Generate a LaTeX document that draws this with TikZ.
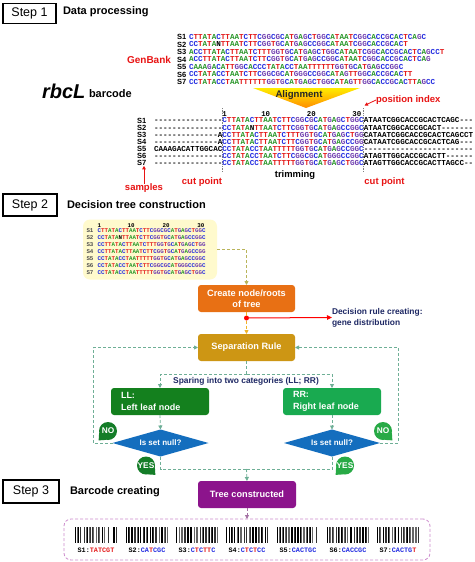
\documentclass[tikz,border=0pt]{standalone}
\usepackage{fontspec}
\setmainfont{Liberation Sans}
\newfontfamily\seqfont{Liberation Mono}
\usetikzlibrary{arrows.meta,shapes.geometric}

\definecolor{nA}{RGB}{40,150,40}
\definecolor{nC}{RGB}{35,45,225}
\definecolor{nG}{RGB}{110,60,175}
\definecolor{nT}{RGB}{228,30,30}
\definecolor{labred}{RGB}{232,20,20}
\definecolor{navyc}{RGB}{30,40,100}
\definecolor{orangebox}{RGB}{232,112,20}
\definecolor{goldbox}{RGB}{205,150,20}
\definecolor{llgreen}{RGB}{20,128,30}
\definecolor{rrgreen}{RGB}{25,170,80}
\definecolor{diablue}{RGB}{20,110,190}
\definecolor{purplebox}{RGB}{140,20,140}
\definecolor{tealc}{RGB}{110,175,150}
\definecolor{olivec}{RGB}{185,180,90}
\definecolor{lightyel}{RGB}{255,250,205}
\definecolor{pinkdash}{RGB}{205,140,205}
\definecolor{ambers}{RGB}{240,180,40}
\definecolor{darkgreenb}{RGB}{20,125,40}
\definecolor{brightgreenb}{RGB}{40,170,70}

\newcommand\nucl[1]{\ifx#1A\textcolor{nA}{A}\else\ifx#1C\textcolor{nC}{C}\else\ifx#1G\textcolor{nG}{G}\else\ifx#1T\textcolor{nT}{T}\else\hbox{#1}\fi\fi\fi\fi}
\def\colseq#1{\colseqi#1\relax}
\def\colseqi#1{\ifx#1\relax\else\nucl#1\expandafter\colseqi\fi}
\def\blkseq#1{\blkseqi#1\relax}
\def\blkseqi#1{\ifx#1\relax\else\hbox{#1}\expandafter\blkseqi\fi}

\newcommand\drawbarcode[2]{%
  \pgfmathsetseed{#2}%
  \foreach \i in {0,...,27}{%
    \pgfmathtruncatemacro\bon{random(0,5)}%
    \pgfmathsetmacro\bw{0.6+0.35*random(0,2)}%
    \pgfmathtruncatemacro\bk{60+20*random(0,2)}%
    \ifnum\bon>0 \fill[black!\bk] ({#1-21+\i*1.5},527) rectangle ++(\bw,16);\fi
  }}

\begin{document}
\begin{tikzpicture}[x=1pt,y=-1pt,
  every node/.style={inner sep=0pt,outer sep=0pt},
  stepbox/.style={draw,line width=1.3pt,minimum width=53pt,minimum height=20pt,font=\fontsize{12.5}{14}\selectfont},
  heading/.style={anchor=west,font=\bfseries\fontsize{11}{13}\selectfont},
  redlab/.style={text=labred,font=\bfseries\fontsize{9.5}{11}\selectfont},
  seqrow/.style={anchor=west,font=\seqfont\bfseries\fontsize{7.6}{8}\selectfont,text height=4.5pt,text depth=0pt},
  smallseq/.style={anchor=west,font=\seqfont\bfseries\fontsize{5.8}{6}\selectfont,text height=3.5pt,text depth=0pt},
  rowlab/.style={anchor=west,font=\bfseries\fontsize{7.5}{8}\selectfont,text height=5pt,text depth=0pt},
  idxlab/.style={font=\seqfont\bfseries\fontsize{7.4}{8}\selectfont},
  flowbox/.style={rounded corners=3pt,minimum width=97pt,minimum height=27pt,text=white,font=\bfseries\fontsize{9.2}{11.5}\selectfont,align=center},
  leafbox/.style={rounded corners=3pt,minimum width=98pt,minimum height=27pt,text=white,font=\bfseries\fontsize{9}{11.7}\selectfont,align=left},
  diam/.style={diamond,aspect=3.6,fill=diablue,minimum width=96pt,minimum height=27pt,text=white,font=\bfseries\fontsize{8}{9}\selectfont},
  bubble/.style={circle,minimum size=18pt,text=white,font=\bfseries\fontsize{8.3}{9}\selectfont},
  tip/.style={-{Triangle[length=4pt,width=4pt]}},
  tealline/.style={draw=tealc,line width=0.8pt,dash pattern=on 3pt off 2pt},
  bclab/.style={font=\seqfont\bfseries\fontsize{6.8}{7}\selectfont}
]
\useasboundingbox (0,0) rectangle (474,562);
\fill[white] (0,0) rectangle (474,562);

% ---------------- Step 1 ----------------
\node[stepbox] (st1) at (29.5,13.5) {Step 1};
\node[heading] (h1) at (63,12) {Data processing};

\node[redlab,font=\bfseries\fontsize{10}{11}\selectfont] (genbank) at (149,60) {GenBank};
\node[anchor=base west,font=\bfseries\itshape\fontsize{20}{22}\selectfont] (rbcl) at (42,98.5) {rbcL};
\node[anchor=base west,font=\bfseries\fontsize{11}{12}\selectfont] (barc) at (89,97.5) {barcode};

\node[rowlab] (g1) at (177,37) {S1};
\node[rowlab] (g2) at (177,44.5) {S2};
\node[rowlab] (g3) at (177,52) {S3};
\node[rowlab] (g4) at (177,59.5) {S4};
\node[rowlab] (g5) at (177,67) {S5};
\node[rowlab] (g6) at (177,74.5) {S6};
\node[rowlab] (g7) at (177,82) {S7};
\node[seqrow] (gs1) at (189,37) {\colseq{CTTATACTTAATCTTCGGCGCATGAGCTGGCATAATCGGCACCGCACTCAGC}};
\node[seqrow] (gs2) at (189,44.5) {\colseq{CCTATANTTAATCTTCGGTGCATGAGCCGGCATAATCGGCACCGCACT}};
\node[seqrow] (gs3) at (189,52) {\colseq{ACCTTATACTTAATCTTTGGTGCATGAGCTGGCATAATCGGCACCGCACTCAGCCT}};
\node[seqrow] (gs4) at (189,59.5) {\colseq{ACCTTATACTTAATCTTCGGTGCATGAGCCGGCATAATCGGCACCGCACTCAG}};
\node[seqrow] (gs5) at (189,67) {\colseq{CAAAGACATTGGCACCCTATACCTAATTTTTTGGTGCATGAGCCGGC}};
\node[seqrow] (gs6) at (189,74.5) {\colseq{CCTATACCTAATCTTCGGCGCATGGGCCGGCATAGTTGGCACCGCACTT}};
\node[seqrow] (gs7) at (189,82) {\colseq{CCTATACCTAATTTTTTGGTGCATGAGCTGGCATAGTTGGCACCGCACTTAGCC}};

% Alignment arrow
\shade[top color=yellow!85!orange,bottom color=orange!90!yellow] (253,88) -- (360,88) -- (306,108) -- cycle;
\node[font=\bfseries\fontsize{9.6}{10}\selectfont,text=black!85] (alig) at (299,95) {Alignment};

% position indices
\node[idxlab] (i1) at (224.7,114) {1};
\node[idxlab] (i10) at (265.7,114) {10};
\node[idxlab] (i20) at (311.3,114) {20};
\node[idxlab] (i30) at (356.9,114) {30};

% cut lines
\draw[gray,densely dotted,line width=0.7pt] (222.4,108) -- (222.4,172);
\draw[gray,densely dotted,line width=0.7pt] (363.8,108) -- (363.8,172);

\node[rowlab] (a1) at (137,120.7) {S1};
\node[rowlab] (a2) at (137,127.8) {S2};
\node[rowlab] (a3) at (137,134.9) {S3};
\node[rowlab] (a4) at (137,142.0) {S4};
\node[rowlab] (a5) at (137,149.1) {S5};
\node[rowlab] (a6) at (137,156.2) {S6};
\node[rowlab] (a7) at (137,163.3) {S7};
\node[seqrow] (as1) at (154,120.7) {\blkseq{---------------}\colseq{CTTATACTTAATCTTCGGCGCATGAGCTGGC}\blkseq{ATAATCGGCACCGCACTCAGC---}};
\node[seqrow] (as2) at (154,127.8) {\blkseq{---------------}\colseq{CCTATANTTAATCTTCGGTGCATGAGCCGGC}\blkseq{ATAATCGGCACCGCACT-------}};
\node[seqrow] (as3) at (154,134.9) {\blkseq{--------------A}\colseq{CCTTATACTTAATCTTTGGTGCATGAGCTGG}\blkseq{CATAATCGGCACCGCACTCAGCCT}};
\node[seqrow] (as4) at (154,142.0) {\blkseq{--------------A}\colseq{CCTTATACTTAATCTTCGGTGCATGAGCCGG}\blkseq{CATAATCGGCACCGCACTCAG---}};
\node[seqrow] (as5) at (154,149.1) {\blkseq{CAAAGACATTGGCAC}\colseq{CCTATACCTAATTTTTGGTGCATGAGCCGGC}\blkseq{------------------------}};
\node[seqrow] (as6) at (154,156.2) {\blkseq{---------------}\colseq{CCTATACCTAATCTTCGGCGCATGGGCCGGC}\blkseq{ATAGTTGGCACCGCACTT------}};
\node[seqrow] (as7) at (154,163.3) {\blkseq{---------------}\colseq{CCTATACCTAATTTTTGGTGCATGAGCTGGC}\blkseq{ATAGTTGGCACCGCACTTAGCC--}};

\node[font=\bfseries\fontsize{9.4}{10}\selectfont] (trim) at (295,175) {trimming};
\node[redlab] (cut1) at (202,182) {cut point};
\node[redlab] (cut2) at (384.5,182) {cut point};
\node[redlab] (samp) at (144,188) {samples};
\node[redlab,anchor=west] (pidx) at (376,100) {position index};
\coordinate (pidxend) at (364.5,105.5);
\draw[labred,line width=0.8pt,-{Triangle[length=3.5pt,width=3.5pt]}] (pidx.west) -- (pidxend);
\draw[labred,line width=0.8pt,-{Triangle[length=3.5pt,width=3.5pt]}] (samp.north) -- (samp.north |- a7.south);

% ---------------- Step 2 ----------------
\node[stepbox,minimum width=54pt,minimum height=22pt] (st2) at (30,205) {Step 2};
\node[heading] (h2) at (67,205) {Decision tree construction};

\node[fill=lightyel,rounded corners=7pt,minimum width=134pt,minimum height=60pt] (ybox) at (150,249.5) {};
\node[smallseq,anchor=center] (y1) at (99.4,226) {1};
\node[smallseq,anchor=center] (y10) at (131.2,226) {10};
\node[smallseq,anchor=center] (y20) at (166,226) {20};
\node[smallseq,anchor=center] (y30) at (200.8,226) {30};
\node[smallseq,text=black!70] (yl1) at (86.5,231) {S1};
\node[smallseq,text=black!70] (yl2) at (86.5,237.9) {S2};
\node[smallseq,text=black!70] (yl3) at (86.5,244.8) {S3};
\node[smallseq,text=black!70] (yl4) at (86.5,251.7) {S4};
\node[smallseq,text=black!70] (yl5) at (86.5,258.6) {S5};
\node[smallseq,text=black!70] (yl6) at (86.5,265.5) {S6};
\node[smallseq,text=black!70] (yl7) at (86.5,272.4) {S7};
\node[smallseq] (ys1) at (97.7,231) {\colseq{CTTATACTTAATCTTCGGCGCATGAGCTGGC}};
\node[smallseq] (ys2) at (97.7,237.9) {\colseq{CCTATANTTAATCTTCGGTGCATGAGCCGGC}};
\node[smallseq] (ys3) at (97.7,244.8) {\colseq{CCTTATACTTAATCTTTGGTGCATGAGCTGG}};
\node[smallseq] (ys4) at (97.7,251.7) {\colseq{CCTTATACTTAATCTTCGGTGCATGAGCCGG}};
\node[smallseq] (ys5) at (97.7,258.6) {\colseq{CCTATACCTAATTTTTGGTGCATGAGCCGGC}};
\node[smallseq] (ys6) at (97.7,265.5) {\colseq{CCTATACCTAATCTTCGGCGCATGGGCCGGC}};
\node[smallseq] (ys7) at (97.7,272.4) {\colseq{CCTATACCTAATTTTTGGTGCATGAGCTGGC}};

\node[flowbox,fill=orangebox] (create) at (246.5,298.5) {Create node/roots\\of tree};
\node[circle,fill=red,minimum size=5pt] (dot) at (246.5,318) {};
\node[anchor=west,align=left,text=navyc,font=\bfseries\fontsize{8.4}{11}\selectfont] (dectext) at (332,317.5) {Decision rule creating:\\gene distribution};
\node[flowbox,fill=goldbox] (sep) at (246.5,347.5) {Separation Rule};

\draw[olivec,line width=0.8pt,dash pattern=on 3pt off 2pt,tip] (ybox.east) -| (create.north);
\draw[ambers,line width=0.8pt] (create.south) -- (dot);
\draw[ambers,line width=0.8pt,dash pattern=on 3pt off 2pt,tip] (dot) -- (sep.north);
\draw[red,line width=1pt,-{Triangle[length=5pt,width=4.5pt]}] (dot) -- (dectext.west);

\node[leafbox,fill=llgreen,text width=78pt] (ll) at (160,401.5) {LL:\\Left leaf node};
\node[leafbox,fill=rrgreen,text width=78pt] (rr) at (332,401.5) {RR:\\Right leaf node};
\node[text=navyc,font=\bfseries\fontsize{8.4}{9}\selectfont,fill=white,inner xsep=1pt] (sparing) at (246,381.5) {Sparing into two categories (LL; RR)};

\coordinate (split) at (246.5,374);
\draw[tealline] (sep.south) -- (split);
\draw[tealline,tip] (split) -| (ll.north);
\draw[tealline,tip] (split) -| (rr.north);

\node[diam] (d1) at (160.5,443) {Is set null?};
\node[diam] (d2) at (332,443) {Is set null?};
\draw[tealline,tip] (ll.south) -- (d1.north);
\draw[tealline,tip] (rr.south) -- (d2.north);

\coordinate (lloop) at (93,443);
\coordinate (rloop) at (398,443);
\draw[tealline,tip] (d1.west) -- (lloop) |- (sep.west);
\draw[tealline,tip] (d2.east) -- (rloop) |- (sep.east);

% bubbles
\node[bubble,fill=darkgreenb] (no1) at (108,431) {NO};
\fill[darkgreenb] (no1.190) -- ([shift={(-3pt,-3pt)}]no1.225) -- (no1.260) -- cycle;
\node[bubble,fill=brightgreenb] (no2) at (383,431) {NO};
\fill[brightgreenb] (no2.-10) -- ([shift={(3pt,-3pt)}]no2.-45) -- (no2.-80) -- cycle;
\node[bubble,fill=darkgreenb] (yes1) at (146,465.5) {YES};
\fill[darkgreenb] (yes1.-10) -- ([shift={(3pt,-3pt)}]yes1.-45) -- (yes1.-80) -- cycle;
\node[bubble,fill=brightgreenb] (yes2) at (345,465.5) {YES};
\fill[brightgreenb] (yes2.190) -- ([shift={(-3pt,-3pt)}]yes2.225) -- (yes2.260) -- cycle;

% ---------------- Step 3 ----------------
\node[stepbox,minimum width=56pt,minimum height=23pt] (st3) at (31,491.5) {Step 3};
\node[heading] (h3) at (70,492) {Barcode creating};

\node[flowbox,fill=purplebox,minimum width=98pt] (tree) at (247,494.5) {Tree constructed};
\coordinate (join) at (246.5,469);
\draw[tealline] (d1.south) |- (join);
\draw[tealline] (d2.south) |- (join);
\draw[tealline,tip] (join) -- (tree.north);

\node[draw=pinkdash,line width=0.8pt,dash pattern=on 3pt off 2pt,rounded corners=7pt,minimum width=366pt,minimum height=41pt] (bcbox) at (247,539.5) {};
\draw[pinkdash!80!black,line width=0.8pt,dash pattern=on 3pt off 2pt,tip] (tree.south) -- (bcbox.north);

\drawbarcode{96}{11}
\drawbarcode{147}{23}
\drawbarcode{197}{37}
\drawbarcode{247}{41}
\drawbarcode{298}{53}
\drawbarcode{348}{67}
\drawbarcode{398}{79}

\node[bclab] (b1) at (96,550) {S1:\textcolor{nT}{TATCGT}};
\node[bclab] (b2) at (147,550) {S2:\textcolor{nC}{CA}\textcolor{nT}{T}\textcolor{nC}{CGC}};
\node[bclab] (b3) at (197,550) {S3:\textcolor{nC}{C}\textcolor{nT}{T}\textcolor{nC}{C}\textcolor{nT}{TT}\textcolor{nC}{C}};
\node[bclab] (b4) at (247,550) {S4:\textcolor{nC}{C}\textcolor{nT}{T}\textcolor{nC}{C}\textcolor{nT}{T}\textcolor{nC}{CC}};
\node[bclab] (b5) at (298,550) {S5:\textcolor{nC}{CACTGC}};
\node[bclab] (b6) at (348,550) {S6:\textcolor{nC}{CACCGC}};
\node[bclab] (b7) at (398,550) {S7:\textcolor{nC}{CACTG}\textcolor{nT}{T}};
\end{tikzpicture}
\end{document}
